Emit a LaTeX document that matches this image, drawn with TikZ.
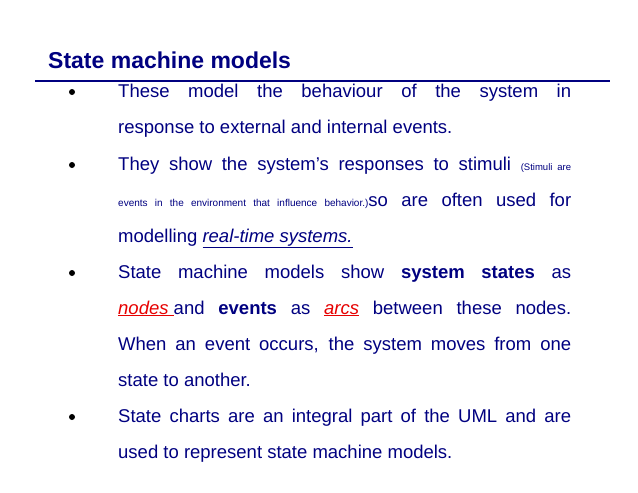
\documentclass[tikz,border=0pt]{standalone}
\usepackage{fontspec}
\setmainfont{Liberation Sans}
\definecolor{navy}{RGB}{0,0,128}
\definecolor{lred}{RGB}{230,0,0}
\newcommand{\jline}[1]{\hbox to 453pt{#1}}
\begin{document}
\begin{tikzpicture}[x=1pt,y=-1pt,
  ln/.style={anchor=base west,inner sep=0pt,text=navy,font=\fontsize{18.5}{22}\selectfont},
  bul/.style={circle,fill=black,inner sep=0pt,minimum size=6pt}]
\useasboundingbox (0,0) rectangle (638,493);
\node[anchor=base west,inner sep=0pt,text=navy,font=\fontsize{23}{26}\selectfont\bfseries] (title) at (48,68) {State machine models};
\coordinate (la) at (35,81); \coordinate (lb) at (610,81);
\draw[navy,line width=1.3pt] (la) -- (lb);
\node[bul] (b1) at (72,92) {};
\node[bul] (b2) at (72,165) {};
\node[bul] (b3) at (72,273) {};
\node[bul] (b4) at (72,417) {};
\node[ln] (l1) at (118,97) {\jline{These model the behaviour of the system in}};
\node[ln] (l2) at (118,133) {response to external and internal events.};
\node[ln] (l3) at (118,170) {\jline{They show the system’s responses to stimuli {\fontsize{9.5}{10}\selectfont(Stimuli are}}};
\node[ln] (l4) at (118,206) {\jline{{\fontsize{10}{11}\selectfont events in the environment that influence behavior.)}so are often used for}};
\node[ln] (l5) at (118,242) {modelling \underline{\textit{real-time systems.}}};
\node[ln] (l6) at (118,278) {\jline{State machine models show \textbf{system states} as}};
\node[ln] (l7) at (118,314) {\jline{{\color{lred}\underline{\textit{nodes }}}and \textbf{events} as {\color{lred}\underline{\textit{arcs}}} between these nodes.}};
\node[ln] (l8) at (118,350) {\jline{When an event occurs, the system moves from one}};
\node[ln] (l9) at (118,386) {state to another.};
\node[ln] (l10) at (118,422) {\jline{State charts are an integral part of the UML and are}};
\node[ln] (l11) at (118,458) {used to represent state machine models.};
\end{tikzpicture}
\end{document}
